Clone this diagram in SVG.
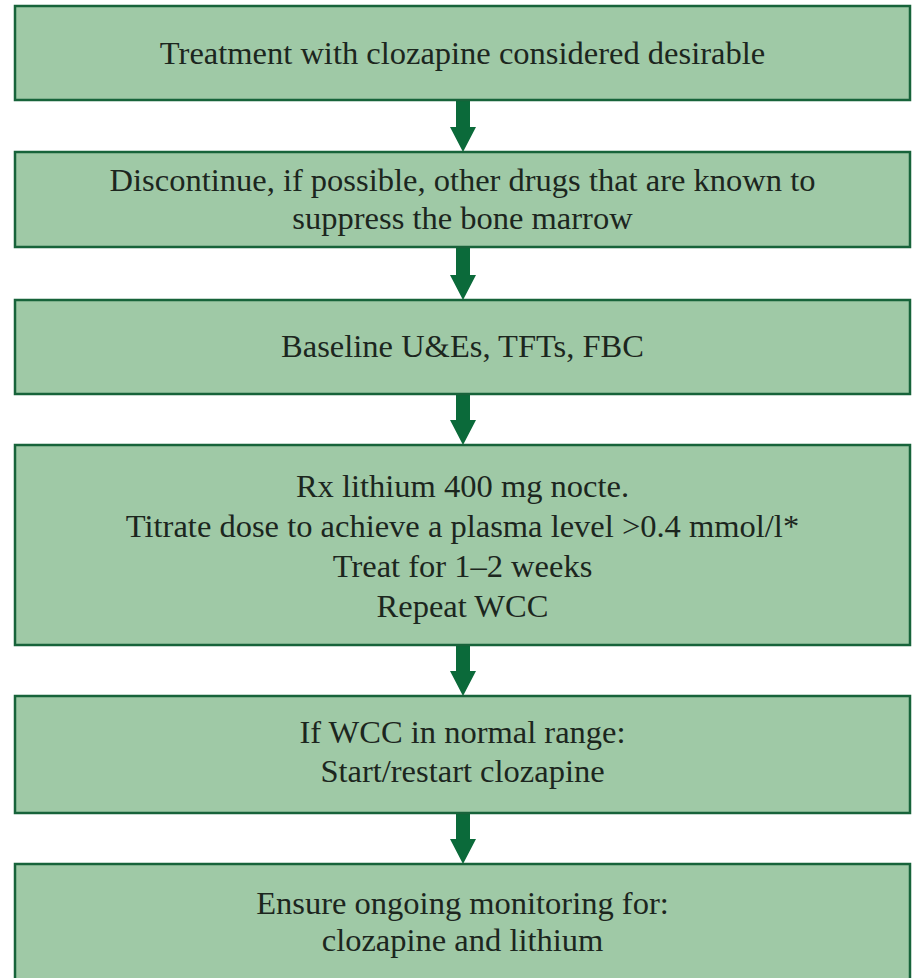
<svg xmlns="http://www.w3.org/2000/svg" width="915" height="978" viewBox="0 0 915 978">
<defs>
<style>
.box{fill:#9fc9a6;stroke:#17633a;stroke-width:2.5}
.t{font-family:"Liberation Serif","Times New Roman",serif;font-size:32.5px;fill:#1c261e;text-anchor:middle}
.arr{fill:#0b6a3a}
</style>
</defs>
<rect x="0" y="0" width="915" height="978" fill="#ffffff"/>
<g id="connectors">
<path class="arr" d="M456,100 L470,100 L470,127 L476,127 L463,152 L450,127 L456,127 Z"/>
<path class="arr" d="M456,247 L470,247 L470,275 L476,275 L463,300 L450,275 L456,275 Z"/>
<path class="arr" d="M456,394 L470,394 L470,420 L476,420 L463,445 L450,420 L456,420 Z"/>
<path class="arr" d="M456,645 L470,645 L470,671 L476,671 L463,696 L450,671 L456,671 Z"/>
<path class="arr" d="M456,813 L470,813 L470,839 L476,839 L463,864 L450,839 L456,839 Z"/>
</g>
<g id="node1">
<rect class="box" x="15" y="6" width="895" height="94"/>
<text class="t" x="462.5" y="64">Treatment with clozapine considered desirable</text>
</g>
<g id="node2">
<rect class="box" x="15" y="152" width="895" height="95"/>
<text class="t" x="462.5" y="191">Discontinue, if possible, other drugs that are known to</text>
<text class="t" x="462.5" y="229">suppress the bone marrow</text>
</g>
<g id="node3">
<rect class="box" x="15" y="300" width="895" height="94"/>
<text class="t" x="462.5" y="357">Baseline U&amp;Es, TFTs, FBC</text>
</g>
<g id="node4">
<rect class="box" x="15" y="445" width="895" height="200"/>
<text class="t" x="462.5" y="497">Rx lithium 400 mg nocte.</text>
<text class="t" x="462.5" y="537">Titrate dose to achieve a plasma level &gt;0.4 mmol/l*</text>
<text class="t" x="462.5" y="577">Treat for 1–2 weeks</text>
<text class="t" x="462.5" y="617">Repeat WCC</text>
</g>
<g id="node5">
<rect class="box" x="15" y="696" width="895" height="117"/>
<text class="t" x="462.5" y="743">If WCC in normal range:</text>
<text class="t" x="462.5" y="782">Start/restart clozapine</text>
</g>
<g id="node6">
<rect class="box" x="15" y="864" width="895" height="130"/>
<text class="t" x="462.5" y="914">Ensure ongoing monitoring for:</text>
<text class="t" x="462.5" y="951">clozapine and lithium</text>
</g>
</svg>
